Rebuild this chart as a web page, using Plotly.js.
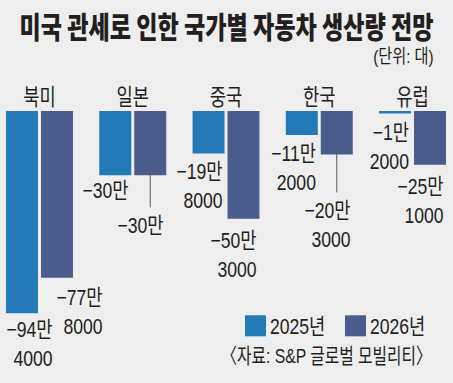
<!DOCTYPE html>
<html><head><meta charset="utf-8">
<script src="https://cdn.plot.ly/plotly-3.0.1.min.js"></script>
<style>html,body{margin:0;padding:0;background:#eeeeee;}</style>
</head><body>
<div id="chart" style="width:453px;height:383px;"></div>
<script>
// ---- data ----
const categories = ['북미', '일본', '중국', '한국', '유럽'];
const seriesNames = ['2025년', '2026년'];
const values2025 = [-944000, -300000, -198000, -112000, -12000];
const values2026 = [-778000, -300000, -503000, -203000, -251000];
const titleText = '미국 관세로 인한 국가별 자동차 생산량 전망';
const unitText = '(단위: 대)';
const sourceText = '〈자료: S&amp;P 글로벌 모빌리티〉';

// ---- styling / layout tuning (not data) ----
const W = 453, H = 383, marginTop = 111;
const plotH = H - marginTop;
const yMin = -1270000;
const pxPerUnit = plotH / (-yMin);
const colors = ['#2479b7', '#4a5b8c'];
const textColor = '#231f20';
const numFont = '"Liberation Sans", Arimo, "Noto Sans CJK KR", sans-serif';
const korFont = '"Noto Sans CJK KR", sans-serif';
const bargap = 0.25, bargroupgap = 0.086;
const slot = (1 - bargap) / 2;
const rightEdge = [-slot * bargroupgap / 2, slot - slot * bargroupgap / 2];
const centerOff = [-slot / 2, slot / 2];
const labelXShift = [[17, 0, 0, 0, 0], [32, 0, 0, 0, 0]];
const labelGap = [[8, 7, 10, 10, 10], [11, 42, 13, 48, 13]];
const leader = [[false, false, false, false, false], [false, true, false, true, false]];
const glyphTopPad = 6;

function fmt(v) {
  const a = Math.abs(v);
  const man = Math.floor(a / 10000);
  const rest = a % 10000;
  return '\u2212' + man + '만' + (rest ? '<br>' + rest : '');
}

const seriesValues = [values2025, values2026];
const traces = seriesValues.map((vals, i) => ({
  type: 'bar', name: seriesNames[i], x: categories, y: vals,
  marker: {color: colors[i], line: {width: 0}},
  hoverinfo: 'skip'
}));

const annotations = [];
const shapes = [];
seriesValues.forEach((vals, s) => {
  vals.forEach((v, i) => {
    const gap = labelGap[s][i];
    annotations.push({
      x: i + rightEdge[s], y: v, xref: 'x', yref: 'y',
      xanchor: 'right', yanchor: 'top', align: 'right',
      xshift: labelXShift[s][i], yshift: -(gap - glyphTopPad),
      text: fmt(v), showarrow: false, name: 'valuelabel',
      font: {family: numFont, size: 22, color: textColor}
    });
    if (leader[s][i]) {
      shapes.push({
        type: 'line', xref: 'x', yref: 'y',
        x0: i + centerOff[s], x1: i + centerOff[s],
        y0: v + 8 / pxPerUnit, y1: v - (gap - 10) / pxPerUnit,
        line: {color: '#5a5a5a', width: 1}
      });
    }
  });
});

annotations.push({
  xref: 'paper', yref: 'paper', x: 436 / W, y: (H - 56) / plotH,
  xanchor: 'right', yanchor: 'middle', showarrow: false, text: unitText,
  font: {family: numFont, size: 19, color: textColor}
});
annotations.push({
  xref: 'paper', yref: 'paper', x: 434 / W, y: (H - 355) / plotH,
  xanchor: 'right', yanchor: 'middle', showarrow: false, text: sourceText,
  font: {family: numFont, size: 21, color: textColor}
});

const layout = {
  width: W, height: H,
  margin: {l: 0, r: 0, t: marginTop, b: 0, pad: 0, autoexpand: false},
  paper_bgcolor: '#eeeeee', plot_bgcolor: '#eeeeee',
  barmode: 'group', bargap: bargap, bargroupgap: bargroupgap,
  title: {
    text: titleText, xref: 'container', yref: 'container',
    x: 0.5, xanchor: 'center', y: 1 - 28 / H, yanchor: 'middle', automargin: false,
    font: {family: korFont, size: 30, weight: 900, color: textColor}
  },
  xaxis: {
    type: 'category', side: 'top', range: [-0.4236, 4.434], automargin: false,
    showgrid: false, zeroline: false, showline: false, ticks: '',
    tickfont: {family: korFont, size: 23, color: textColor},
    fixedrange: true
  },
  yaxis: {visible: false, range: [yMin, 0], fixedrange: true, automargin: false},
  showlegend: true,
  legend: {
    orientation: 'h', x: 230 / W, xanchor: 'left', y: (H - 326) / plotH, yanchor: 'middle',
    bgcolor: 'rgba(0,0,0,0)', font: {family: numFont, size: 22, color: textColor},
    entrywidth: 55, entrywidthmode: 'pixels', traceorder: 'normal'
  },
  annotations: annotations,
  shapes: shapes
};

// condense text horizontally (the reference uses a narrow typeface)
function condense(el, sx, origin) {
  const bb = el.getBBox();
  const ox = origin === 'right' ? bb.x + bb.width : origin === 'left' ? bb.x : bb.x + bb.width / 2;
  const prev = el.getAttribute('transform') || '';
  el.setAttribute('transform', prev + ' translate(' + ox + ',0) scale(' + sx + ',1) translate(' + (-ox) + ',0)');
}

Plotly.newPlot('chart', traces, layout, {displayModeBar: false, staticPlot: true}).then(() => {
  document.querySelectorAll('.legend .traces').forEach(g => {
    const t = g.querySelector('text.legendtext');
    const tx = t ? (parseFloat(t.getAttribute('x')) || 40) : 40;
    g.querySelectorAll('.legendpoints path').forEach(p => {
      p.setAttribute('d', 'M10.5,10.5H-10.5V-10.5H10.5Z');
      p.setAttribute('transform', 'translate(' + (tx - 14.5) + ',0)');
    });
    if (t) condense(t, 0.8, 'left');
  });
  document.querySelectorAll('.gtitle').forEach(t => condense(t, 0.77, 'center'));
  document.querySelectorAll('.xtick text').forEach(t => condense(t, 0.77, 'center'));
  document.querySelectorAll('.annotation-text').forEach(t => {
    const isSource = t.textContent.indexOf('자료') >= 0;
    condense(t, isSource ? 0.75 : 0.8, 'right');
  });
});
</script>
</body></html>
